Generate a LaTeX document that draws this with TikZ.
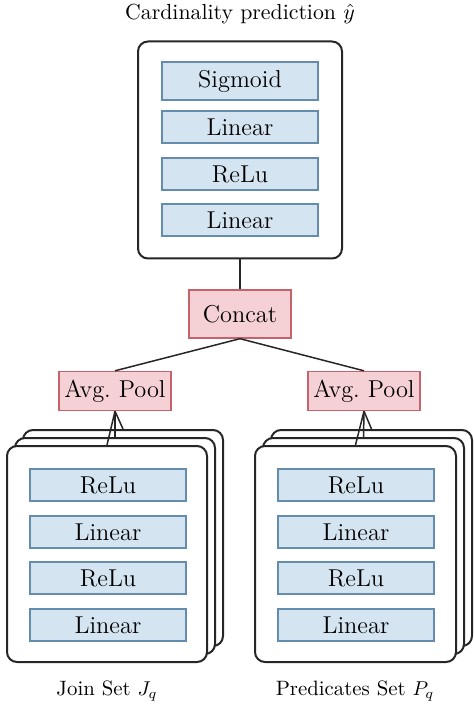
\documentclass[tikz,border=0pt]{standalone}
\usepackage{amsmath}
\begin{document}
\begin{tikzpicture}[x=0.5pt,y=-0.5pt,
  font=\fontsize{12.2}{14}\selectfont,
  outerbox/.style={draw=black!85, line width=1pt, rounded corners=5pt, fill=white, inner sep=0pt},
  layerbox/.style={draw=layerborder, fill=layerfill, line width=0.7pt, minimum width=78pt, minimum height=16pt, inner sep=0pt},
  poolbox/.style={draw=poolborder, fill=poolfill, line width=0.7pt, inner sep=0pt},
  conn/.style={draw=black!85, line width=0.75pt},
  lbl/.style={inner sep=0pt, font=\fontsize{10.4}{12}\selectfont}
]
\definecolor{layerfill}{RGB}{212,228,241}
\definecolor{layerborder}{RGB}{100,140,172}
\definecolor{poolfill}{RGB}{245,208,212}
\definecolor{poolborder}{RGB}{196,98,110}
\useasboundingbox (0,0) rectangle (474,710);

% title
\node[lbl, font=\fontsize{10.9}{13}\selectfont] (title) at (240,14) {Cardinality prediction $\hat{y}$};

% top box
\node[outerbox, minimum width=102pt, minimum height=108.5pt] (top) at (240,150) {};
\node[layerbox, minimum height=19pt] (sig) at (240,81) {Sigmoid};
\node[layerbox] (lin1) at (240,127) {Linear};
\node[layerbox] (relu1) at (240,174) {ReLu};
\node[layerbox] (lin2) at (240,220) {Linear};

% concat
\node[poolbox, minimum width=51pt, minimum height=24pt] (concat) at (240,314) {Concat};
\draw[conn] (top.south) -- (concat.north);

% avg pools
\node[poolbox, minimum width=56pt, minimum height=19.5pt] (poolL) at (115,391) {Avg.\ Pool};
\node[poolbox, minimum width=56pt, minimum height=19.5pt] (poolR) at (364,391) {Avg.\ Pool};
\draw[conn] (concat.south) -- (poolL.north);
\draw[conn] (concat.south) -- (poolR.north);

% left stack
\node[outerbox, minimum width=100pt, minimum height=108pt] (jback) at (123,538) {};
\node[outerbox, minimum width=100pt, minimum height=108pt] (jmid) at (115,546) {};
\node[outerbox, minimum width=100pt, minimum height=108pt] (jfront) at (107,554) {};
\node[layerbox] (jl1) at (108,485) {ReLu};
\node[layerbox] (jl2) at (108,532) {Linear};
\node[layerbox] (jl3) at (108,578) {ReLu};
\node[layerbox] (jl4) at (108,625) {Linear};
\draw[conn] (jfront.north) -- (poolL.south);
\draw[conn] (jmid.north) -- (poolL.south);
\draw[conn] (jback.north) -- (poolL.south);

% right stack
\node[outerbox, minimum width=100.5pt, minimum height=108pt] (pback) at (371.5,538) {};
\node[outerbox, minimum width=100.5pt, minimum height=108pt] (pmid) at (363.5,546) {};
\node[outerbox, minimum width=100.5pt, minimum height=108pt] (pfront) at (355.5,554) {};
\node[layerbox] (pl1) at (356,485) {ReLu};
\node[layerbox] (pl2) at (356,532) {Linear};
\node[layerbox] (pl3) at (356,578) {ReLu};
\node[layerbox] (pl4) at (356,625) {Linear};
\draw[conn] (pfront.north) -- (poolR.south);
\draw[conn] (pmid.north) -- (poolR.south);
\draw[conn] (pback.north) -- (poolR.south);

% labels
\node[lbl] (jlabel) at (107,691) {Join Set $J_q$};
\node[lbl] (plabel) at (355,691) {Predicates Set $P_q$};
\end{tikzpicture}
\end{document}
